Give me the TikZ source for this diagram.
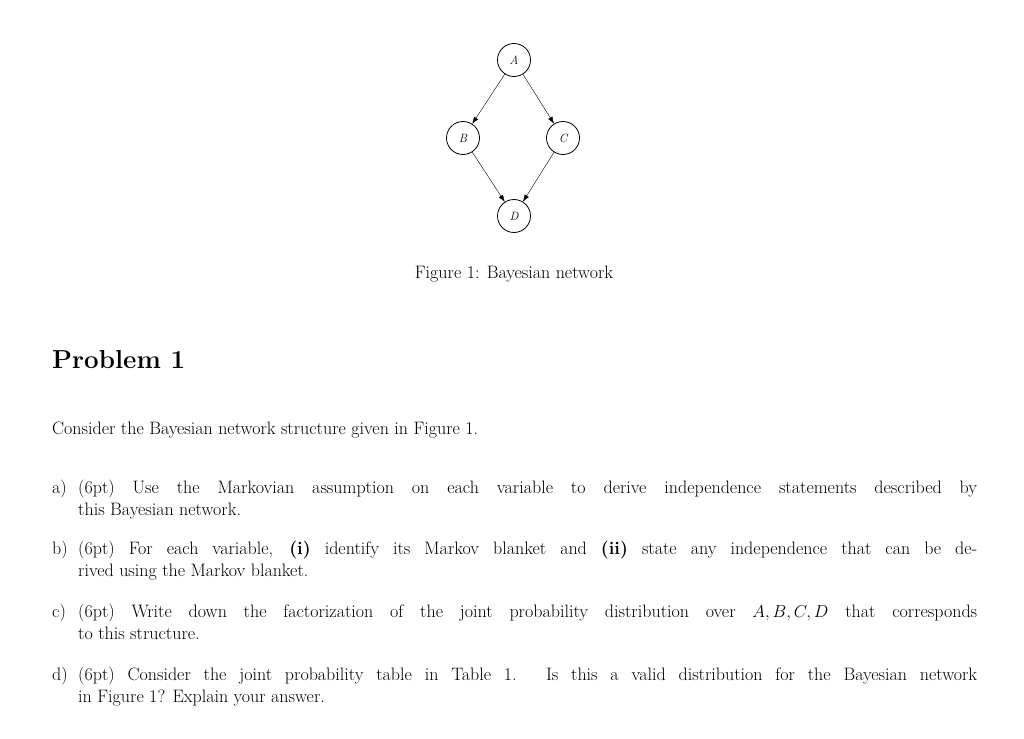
\documentclass[tikz,border=0pt]{standalone}
\usetikzlibrary{arrows.meta}
\begin{document}
\begin{tikzpicture}[x=1pt,y=-1pt,
  var/.style={circle,draw,thick,minimum size=33pt,inner sep=0pt,font=\fontsize{12}{14}\selectfont\itshape},
  edge/.style={-{Latex[length=7pt,width=5pt]},thin},
  body/.style={anchor=north west,inner sep=0pt,font=\fontsize{18}{22}\selectfont,align=justify,text width=899pt},
  lbl/.style={anchor=north west,inner sep=0pt,font=\fontsize{18}{22}\selectfont}]
\useasboundingbox (0,0) rectangle (1024,738);
\node[var] (A) at (514,60) {A};
\node[var] (B) at (463,138) {B};
\node[var] (C) at (563,138) {C};
\node[var] (D) at (514,216) {D};
\draw[edge] (A) -- (B);
\draw[edge] (A) -- (C);
\draw[edge] (B) -- (D);
\draw[edge] (C) -- (D);
\node[font=\fontsize{18}{22}\selectfont] (cap) at (514,274) {Figure 1: Bayesian network};
\node[anchor=west,inner sep=0pt,font=\fontsize{26}{30}\selectfont\bfseries] (prob) at (52,360) {Problem 1};
\node[anchor=west,inner sep=0pt,font=\fontsize{18}{22}\selectfont] (cons) at (52,430) {Consider the Bayesian network structure given in Figure 1.};
\node[lbl] (la) at (52,480) {a)};
\node[body] (ta) at (78,480) {(6pt) Use the Markovian assumption on each variable to derive independence statements described by\linebreak this Bayesian network.};
\node[lbl] (lb) at (52,541) {b)};
\node[body] (tb) at (78,541) {(6pt) For each variable, \textbf{(i)} identify its Markov blanket and \textbf{(ii)} state any independence that can be de-\linebreak rived using the Markov blanket.};
\node[lbl] (lc) at (52,604) {c)};
\node[body] (tc) at (78,604) {(6pt) Write down the factorization of the joint probability distribution over $A,B,C,D$ that corresponds\linebreak to this structure.};
\node[lbl] (ld) at (52,667) {d)};
\node[body] (td) at (78,667) {(6pt) Consider the joint probability table in Table 1. Is this a valid distribution for the Bayesian network\linebreak in Figure 1? Explain your answer.};
\end{tikzpicture}
\end{document}
